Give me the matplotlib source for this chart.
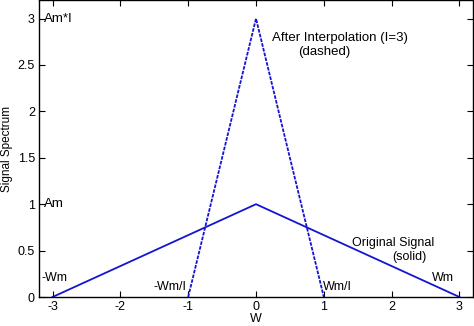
import matplotlib
matplotlib.use("Agg")
import matplotlib.pyplot as plt

# Spectrum corner points
w_orig = [-3, 0, 3]
a_orig = [0, 1, 0]
w_interp = [-1, 0, 1]
a_interp = [0, 3, 0]

xticks = [-3, -2, -1, 0, 1, 2, 3]
yticks = [0, 0.5, 1, 1.5, 2, 2.5, 3]
ytick_labels = ['0', '0.5', '1', '1.5', '2', '2.5', '3']

plt.rcParams['font.family'] = ['Liberation Sans', 'DejaVu Sans']
plt.rcParams['axes.unicode_minus'] = False

fig = plt.figure(figsize=(4.74, 3.26), dpi=100)
ax = fig.add_axes([39 / 474, 29 / 326, 434 / 474, 297 / 326])

blue = '#1414d2'
ax.plot(w_orig, a_orig, '-', color=blue, linewidth=1.3)
ax.plot(w_interp, a_interp, '--', color=blue, linewidth=1.3, dashes=(2, 0.7))

ax.set_xlim(-3.2, 3.2)
ax.set_ylim(0, 3.2)
ax.set_xticks(xticks)
ax.set_yticks(yticks)
ax.set_yticklabels(ytick_labels)
ax.tick_params(direction='in', top=True, right=True, length=4, labelsize=9, pad=3)
for s in ax.spines.values():
    s.set_linewidth(1.0)

ax.set_xlabel('W', fontsize=9, labelpad=0)
ax.set_ylabel('Signal Spectrum', fontsize=8.5, labelpad=3)

# Annotations
fs = 9
ax.text(-3.127, 2.99, 'Am*I', ha='left', va='center', fontsize=9.5)
ax.text(-3.127, 1.0, 'Am', ha='left', va='center', fontsize=9.5)
ax.text(-3.156, 0.205, '-Wm', ha='left', va='center', fontsize=fs)
ax.text(-1.03, 0.108, '-Wm/I', ha='right', va='center', fontsize=fs)
ax.text(0.99, 0.108, 'Wm/I', ha='left', va='center', fontsize=fs)
ax.text(2.6, 0.2, 'Wm', ha='left', va='center', fontsize=fs)
ax.text(0.236, 2.79, 'After Interpolation (I=3)', ha='left', va='center', fontsize=9.5)
ax.text(0.62, 2.64, '(dashed)', ha='left', va='center', fontsize=9.5)
ax.text(1.416, 0.583, 'Original Signal', ha='left', va='center', fontsize=fs)
ax.text(2.006, 0.431, '(solid)', ha='left', va='center', fontsize=fs)

fig.savefig('out.png', dpi=100)
